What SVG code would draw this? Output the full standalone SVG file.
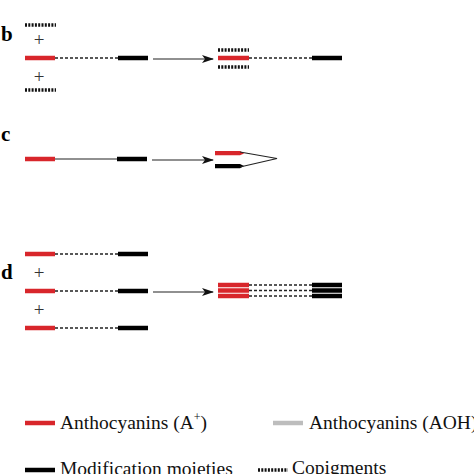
<svg xmlns="http://www.w3.org/2000/svg" width="474" height="474" viewBox="0 0 474 474">
<defs>
<style>
.red{stroke:#d8262b;stroke-width:4.5;fill:none}
.blk{stroke:#000;stroke-width:4.5;fill:none}
.gray{stroke:#bdbdbd;stroke-width:4.5;fill:none}
.dash{stroke:#222;stroke-width:1.5;stroke-dasharray:3 2;fill:none}
.thin{stroke:#222;stroke-width:1.2;fill:none}
.cop{stroke:#111;stroke-width:3.5;stroke-dasharray:2 1.3;fill:none}
.arr{stroke:#222;stroke-width:1.2;fill:none;marker-end:url(#ah)}
.lbl{font-family:"Liberation Serif","DejaVu Serif",serif;font-weight:bold;font-size:21px;fill:#000}
.plus{font-family:"Liberation Serif","DejaVu Serif",serif;font-size:19px;fill:#333;text-anchor:middle}
.leg{font-family:"Liberation Serif","DejaVu Serif",serif;font-size:19.5px;fill:#111}
</style>
<marker id="ah" markerWidth="12" markerHeight="8" refX="11" refY="4" orient="auto" markerUnits="userSpaceOnUse">
<path d="M0,0 L12,4 L0,8 L3,4 Z" fill="#111"/>
</marker>
</defs>

<g id="panel-b">
<text class="lbl" x="1" y="41">b</text>
<line class="cop" x1="25" y1="25" x2="56" y2="25"/>
<text class="plus" x="39" y="46">+</text>
<line class="red" x1="25" y1="58" x2="55" y2="58"/>
<line class="dash" x1="55" y1="58" x2="118" y2="58"/>
<line class="blk" x1="118" y1="58" x2="148" y2="58"/>
<text class="plus" x="39" y="83">+</text>
<line class="cop" x1="25" y1="90" x2="56" y2="90"/>
<line class="cop" x1="218" y1="50" x2="249" y2="50"/>
<line class="red" x1="218" y1="58" x2="249" y2="58"/>
<line class="cop" x1="218" y1="67" x2="249" y2="67"/>
<line class="dash" x1="249" y1="58" x2="312" y2="58"/>
<line class="blk" x1="312" y1="58" x2="342" y2="58"/>
</g>

<g id="panel-c">
<text class="lbl" x="1" y="141">c</text>
<line class="red" x1="25" y1="159" x2="55" y2="159"/>
<line class="thin" x1="55" y1="159" x2="117" y2="159"/>
<line class="blk" x1="117" y1="159" x2="147" y2="159"/>
<path d="M215,151 L240,151 L244,153.5 L240,155.2 L215,155.2 Z" fill="#d8262b"/>
<path d="M215,164 L240,164 L244,166 L240,168.2 L215,168.2 Z" fill="#000"/>
<path class="thin" d="M240,152 L277,158.5 L240,167"/>
</g>

<g id="panel-d">
<text class="lbl" x="1" y="279">d</text>
<line class="red" x1="25" y1="254" x2="55" y2="254"/>
<line class="dash" x1="55" y1="254" x2="118" y2="254"/>
<line class="blk" x1="118" y1="254" x2="148" y2="254"/>
<text class="plus" x="39" y="279">+</text>
<line class="red" x1="25" y1="291" x2="55" y2="291"/>
<line class="dash" x1="55" y1="291" x2="118" y2="291"/>
<line class="blk" x1="118" y1="291" x2="148" y2="291"/>
<text class="plus" x="39" y="316">+</text>
<line class="red" x1="25" y1="328" x2="55" y2="328"/>
<line class="dash" x1="55" y1="328" x2="118" y2="328"/>
<line class="blk" x1="118" y1="328" x2="148" y2="328"/>
<line class="red" x1="218" y1="285" x2="249" y2="285"/>
<line class="red" x1="218" y1="290.5" x2="249" y2="290.5"/>
<line class="red" x1="218" y1="296" x2="249" y2="296"/>
<line class="dash" x1="249" y1="285" x2="312" y2="285"/>
<line class="dash" x1="249" y1="290.5" x2="312" y2="290.5"/>
<line class="dash" x1="249" y1="296" x2="312" y2="296"/>
<line class="blk" x1="312" y1="285" x2="342" y2="285"/>
<line class="blk" x1="312" y1="290.5" x2="342" y2="290.5"/>
<line class="blk" x1="312" y1="296" x2="342" y2="296"/>
</g>

<g id="connectors">
<line class="arr" x1="153" y1="59" x2="213" y2="59"/>
<line class="arr" x1="152" y1="160" x2="213" y2="160"/>
<line class="arr" x1="153" y1="292" x2="213" y2="292"/>
</g>

<g id="legend">
<line class="red" x1="25" y1="423" x2="55" y2="423"/>
<text class="leg" x="60" y="429">Anthocyanins (A<tspan font-size="12" dy="-8">+</tspan><tspan dy="8">)</tspan></text>
<line class="gray" x1="273" y1="423" x2="303" y2="423"/>
<text class="leg" x="309" y="429">Anthocyanins (AOH)</text>
<line class="blk" x1="25" y1="470" x2="55" y2="470"/>
<text class="leg" x="60" y="475">Modification moieties</text>
<line class="cop" x1="258" y1="470" x2="288" y2="470"/>
<text class="leg" x="292" y="474">Copigments</text>
</g>
</svg>
